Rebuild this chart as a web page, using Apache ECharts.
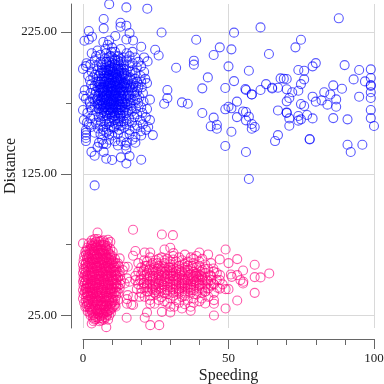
<!DOCTYPE html>
<html>
<head>
<meta charset="utf-8">
<style>html,body{margin:0;background:#fff}#chart{width:384px;height:384px}</style>
<script src="https://cdn.jsdelivr.net/npm/echarts@6/dist/echarts.min.js"></script>
</head>
<body>
<div id="chart"></div>
<script>
const majorDistance = [25, 125, 225];
const minorDistance = [75, 175];

// blue group, readable points on the right
const blueFar = [[87.9,234.7],[61,228.3],[51.9,224.6],[38.9,219.6],[47,214.2],[51,212.8],[44.9,208.8],[63.9,209.5],[74.9,219.6],[73,214.2],[38.1,204.8],[38.1,202],[50,200.8],[57,197.7],[42.9,193],[51.9,190.4],[41,185.3],[48.9,185.5],[55.8,184.8],[56,184.1],[58,181],[58,181],[61,184.1],[62.9,188.3],[65,185.7],[65,185.2],[67,185.7],[67.9,192.3],[69,192.1],[70,191.9],[70,184.6],[71.9,182.5],[74,183.6],[74.9,188.3],[76,191.6],[74,198.2],[76,197.7],[78.9,200.8],[80,203.1],[89.9,201.7],[94.9,198.2],[98.9,198.7],[93,191.6],[96.9,190.2],[98.9,192.6],[98.9,187.6],[98.9,187],[86,187.4],[89,185],[82.9,182.5],[85,181],[78.9,179.4],[80,175.9],[82,176.8],[87,177.5],[84,173.8],[87,172.3],[94.9,179.4],[98.9,182.5],[98.9,178.5],[98.9,170],[98.9,164.3],[100,158.7],[86,164.3],[90.9,163.4],[78.9,164.1],[77,166.5],[74,165.8],[74,162.5],[74.9,163.4],[70.9,164.1],[70.9,158.9],[70,168.3],[70,168],[67,169.7],[74.9,174.2],[76,172.8],[70,176.1],[70.9,178.5],[52.9,175.9],[50,172.3],[51,171.2],[48.9,170.5],[41,167.9],[44.9,164.6],[52.9,165],[55,169],[56,168.6],[57,165.3],[56,162.7],[58,160.1],[59,158],[58,156.8],[43.9,158.5],[46,159.6],[46,156.8],[51,154.7],[67,152.3],[66,148.1],[77.9,149.5],[77.9,149.2],[48.9,144.6],[56,140.4],[90.9,145.5],[92,140.4],[96,145.5],[57,121.3]];

// blue group, edge of the dense cloud
const blueEdge = [[9,244.7],[14.9,242.4],[22.1,241.5],[7.1,234.2],[12.9,231.6],[14.9,229.5],[12.9,228.8],[7.1,227.6],[2,225.7],[16,224.3],[27,224.7],[11.1,222.2],[3.1,221.7],[2,219.8],[0.5,218.9],[14.9,219.8],[17.2,219.1],[20,214.6],[24.8,212.5],[26,208.5],[32,199.8],[22.2,204.3],[21,207.1],[29,184.1],[29,178.4],[27.9,174.4],[34,175.4],[36,174.4],[23,177.3],[22,170.7],[23,162.9],[24,152.3],[18,146.9],[20,134.9],[14.9,132.3],[16,137.5],[14.9,142.4],[13,136.6],[10,134.7],[8,135.6],[7.1,140.5],[4,137.7],[2.9,140.5],[5,144],[4,116.8],[1,155.9],[1,154],[1,152.2],[1,150.3],[1,148.1],[0,199],[1,201],[1.2,203],[0.6,184],[0.2,180],[1,178],[0,170],[1.5,168],[0.3,163],[1.3,161],[2,160],[2.4,191],[1.8,194],[2.6,172],[2.2,176],[2.8,158]];

// blue group, dense cloud
const blueCore = [[7,218],[8.5,216],[9,219],[10,214],[5,212],[7.6,213],[11,211],[13,213],[15,210],[3,210],[4.5,208],[6,209],[8,210],[9.5,208],[12,208],[14,207],[16,208],[18,207],[17,211],[19,204],[4,205],[6,204],[7.5,206],[9,204],[11,205],[13,204],[15,205],[17,203],[18.5,200],[20,201],[2.5,202],[4.6,201],[6.5,200],[8,202],[10,200],[12,201],[14,199],[16,201],[21,197],[3,197],[5,198],[7,196],[8.7,198],[10.5,197],[12.5,198],[14.3,196],[16.3,197],[18,196],[19.8,194],[21.4,192],[3.5,193],[5.4,194],[7.2,192],[9,194],[10.8,193],[12.6,194],[14.4,192],[16.2,193],[18,192],[20,190],[2.8,188],[4.6,190],[6.2,188],[7.8,190],[9.4,189],[11,190],[12.8,188],[14.6,189],[16.4,188],[18.2,187],[20.2,186],[22,189],[3.2,185],[5,186],[6.8,184],[8.4,186],[10,185],[11.8,186],[13.4,184],[15,185],[16.8,184],[18.6,183],[20.6,182],[2.6,182],[4.2,181],[6,182],[7.6,180],[9.2,182],[10.8,181],[12.4,182],[14.2,180],[16,181],[17.8,180],[19.4,179],[3.4,178],[5.2,177],[7,178],[8.8,176],[10.4,178],[12,176],[13.6,178],[15.4,176],[17.2,177],[19,175],[20.8,176],[2.4,175],[4,173],[5.8,174],[7.4,172],[9.2,174],[11,172],[12.8,174],[14.6,172],[16.4,173],[18.2,171],[20,172],[3,170],[4.8,169],[6.6,170],[8.2,168],[10,170],[11.6,168],[13.2,170],[15,168],[16.8,169],[18.6,167],[20.4,168],[3.6,166],[5.4,165],[7,166],[8.8,164],[10.6,166],[12.4,164],[14,166],[15.8,164],[17.6,165],[19.6,163],[21.6,165],[2.6,164],[4.4,161],[6.2,162],[8,160],[9.8,162],[11.4,160],[13.2,162],[15,160],[16.8,161],[18.6,159],[20.6,160],[22.4,158],[5.2,157],[7,158],[8.8,156],[10.6,158],[12.4,156],[14.2,158],[16,156],[17.8,157],[19.8,155],[21.6,156],[4,154],[6,153],[8,154],[10,152],[12,153],[14,151],[16,153],[18,151],[20,152],[6.6,149],[9,149],[11,148],[13,148],[15,147],[17,149],[8,146],[12,145],[14.6,145],[7,146],[5.5,147],
[8.2,196],[9.6,192],[10.3,188],[11.4,195],[12.2,191],[8.9,187],[7.3,183],[9.9,183],[11.2,184],[12.5,179],[10,176],[8.1,178],[9.4,172],[11.3,175],[12.9,172],[7.7,175],[6.6,179],[8.6,170],[10.7,168],[11.9,170],[13.7,182],[14.2,187],[13.1,191],[7.4,188],[6.5,192],[7.9,200],[10,203],[11.5,199],[9.2,197],[12.3,203],[10.9,206],[8.8,207],[9.7,211],[11.8,193],[10.2,195],[9,191],[8,193],[12,187],[11,187],[9.6,185],[8.7,184],[10.4,180],[11.6,178],[9.7,178],[8.5,174],[10.6,173],[12.2,168],[9.3,167],[7.2,168],[13,166],[6.9,174],[13.4,176],[14.8,178],[15.6,183],[15.4,191],[14,195],[13,199],[6,196],[5.6,184],[5.9,176],[6.1,167],[14.2,170],[15.2,174],[16,178],[17,186],[16.6,191],[11,163],[9,161],[13,159],[7.6,163],
[8.4,192],[9.2,189],[10,191],[10.9,189],[11.7,191],[12.5,185],[11.3,182],[10.2,183],[9,180],[8,182],[7,186],[6.8,181],[7.5,177],[8.8,179],[10,177],[11.2,180],[12.2,177],[13,180],[13.8,175],[12.6,170],[11.4,171],[10.3,171],[9.1,170],[8,172],[7,171],[6.2,173],[5.4,171],[5.2,180],[5.6,188],[6,190],[7.6,194],[8.9,195],[10.1,198],[11.2,196],[12.4,196],[13.4,194],[13.8,189],[14.8,186],[15.4,180],[14.6,175],[9.4,199],[8,198],[6.6,198],[11,202],[12.9,206],[9,201],[4.4,183],[4.2,176],[4,187],[17.4,189],[18.6,178],[16.4,175],[15.6,170],[12,164],[10,165],[8.2,166],[14,162],[6,160],[10.6,157],[9,153],
[7.2,190],[8.6,189],[9.8,187],[11.4,188],[12.6,189],[13.2,186],[12.8,183],[11.7,184],[10.6,184],[9.5,186],[8.2,184],[7.4,185],[6.4,186],[6.6,183],[8.3,181],[9.6,181],[10.9,179],[12,180],[13.2,178],[14,183],[13.6,187],[10.6,176],[9.6,175],[8.4,177],[7.2,179],[6.2,177],[6.6,175],[7.8,173],[9,172],[10.2,174],[11.4,173],[12.4,174],[13.3,172],[12.2,172],[8.8,193],[7.4,197],[10.2,193],[11.4,192],[12.8,192],[13.4,196],[10.6,200],[8.8,199],[12.2,199],[14.8,194],[15.2,188],[16,186],[6,185],[5.2,190],[4.8,178],[5,174],[7.4,169.5],[9.6,168.5],[11,166],[12.8,167],[8,204],[10,207],[12,205],[14,202],[6.4,202],[15,198],[4.2,195],[17,198],[18.6,190],[19,186],[17.6,182],[16.6,171],[9.4,158],[12,160],[7,156],[15,163]];

// pink group
const pinkFar = [[5,83.6],[17.2,85.5],[27.1,82.2],[30.9,81.7],[0,75.9],[4,78.9],[8.6,78.5],[9.4,77],[18,70.5],[17.2,67.2],[21.2,69.5],[23.1,69.5],[28,71.6],[30,72.8],[31.1,69],[15,23.4],[21.2,23.4],[22,27.2],[23.1,18.2],[26.2,18.2],[27.1,27.6],[3,15.4],[8,16.8],[3,19.4],[14.3,59.4],[15.4,59.4],[13.7,57],[15.1,51.2],[16,48.8],[14.3,47.6],[12,61.8],[12.6,65.3],[12,35.9],[11.2,31.2],[15.4,39.4],[15.1,36.6],[17.2,38.2],[16.6,32.8],[15.1,33.3],[18.5,43.6],[17.2,32.4],[19.4,38.2],[21.2,38.2],[23.1,33.3],[24.6,33.3],[30,31.2],[49,71.6],[47,64.6],[43,68.1],[40,69.5],[53,64.8],[50,62],[59,60.8],[55,56.8],[64,54.7],[61,51.9],[59,52.1],[51.1,52.3],[50.8,54],[53,53.5],[54.1,50],[55,47.6],[55.1,48.8],[50,43.6],[49,43.6],[59,41],[53,35.6],[49,30],[45,25],[36,16.1],[45,33.3],[45,35.9],[42,33.5],[43.1,38.2],[40.8,37],[37,28.4],[37,31.2],[34,30],[31.3,31.2],[30,27.2],[47.1,53.5],[44.8,58.2],[43.7,53.5],[46,50],[44.8,47.6],[46.2,44.6],[42,41.8]];

const pinkCore = [[3,78],[5,79],[7,78],[2,76],[4,75],[5.5,77],[7,75],[8.5,76],[1.5,73],[3,72],[4.6,73],[6.2,72],[7.8,73],[9.4,72],[0.8,70],[2.4,69],[4,70],[5.6,69],[7.2,70],[8.8,69],[10.2,70],[0.4,67],[2,66],[3.6,67],[5.2,66],[6.8,67],[8.4,66],[10,67],[11,65],[0.2,64],[1.8,63],[3.4,64],[5,63],[6.6,64],[8.2,63],[9.8,64],[11.2,62],[0,61],[1.6,60],[3.2,61],[4.8,60],[6.4,61],[8,60],[9.6,61],[11,59],[12.2,60],[0.2,58],[1.8,57],[3.4,58],[5,57],[6.6,58],[8.2,57],[9.8,58],[11.4,57],[12.6,56],[0,55],[1.6,54],[3.2,55],[4.8,54],[6.4,55],[8,54],[9.6,55],[11.2,54],[12.8,53],[0.2,52],[1.8,51],[3.4,52],[5,51],[6.6,52],[8.2,51],[9.8,52],[11.4,51],[13,50],[0,49],[1.6,48],[3.2,49],[4.8,48],[6.4,49],[8,48],[9.6,49],[11.2,48],[12.8,47],[0.2,46],[1.8,45],[3.4,46],[5,45],[6.6,46],[8.2,45],[9.8,46],[11.4,45],[12.6,44],[0,43],[1.6,42],[3.2,43],[4.8,42],[6.4,43],[8,42],[9.6,43],[11.2,42],[12.2,41],[0.2,40],[1.8,39],[3.4,40],[5,39],[6.6,40],[8.2,39],[9.8,40],[11.4,39],[0,37],[1.6,36],[3.2,37],[4.8,36],[6.4,37],[8,36],[9.6,37],[11,36],[0.4,34],[2,33],[3.6,34],[5.2,33],[6.8,34],[8.4,33],[10,34],[11,33],[0.8,31],[2.4,30],[4,31],[5.6,30],[7.2,31],[8.8,30],[10.2,31],[1.6,28],[3.2,27],[4.8,28],[6.4,27],[8,28],[9.6,27],[2.6,25],[4.2,24],[5.8,25],[7.4,24],[9,25],[4,22],[5.6,21],[7.2,22],[8.6,22],[3.6,21],
[1,68],[3,65],[5.9,68],[7.5,62],[9,59],[2.6,59],[4.1,56],[6,53],[7.4,50],[9,47],[2.4,47],[4,44],[5.7,41],[7.2,38],[9,35],[2.6,38],[4.2,35],[5.9,32],[7.6,29],[3,29],[5.2,26],[6.6,23],[1,56],[1,50],[1,44],[1,38],[10.4,56],[10.6,50],[10.5,44],[10.3,38],[9,65],[4.3,62],[6,59],[7.6,56],[5.6,47],[3.8,50],[2.4,53],[8.7,53],[8.9,41],[2.4,42],[6.3,35],[4,68],[6,71],[3.6,71],
[3.9,76],[6.2,75],[5,72],[7,71],[8.6,71],[2.2,71],[1.4,66],[2.9,68],[4.8,67.5],[6.4,69],[7.9,66],[9.4,68],[9.2,62],[7.1,64],[5.7,62],[3.7,62.5],[2.2,61],[1,59],[2.7,56],[4.5,58.5],[6.2,57],[7.3,59],[8.9,56],[10.6,60],[10.9,53],[9.2,50],[7.6,52.5],[5.6,50],[4.2,52.5],[2.6,50],[1.3,47],[3.1,45],[4.6,46.5],[6.3,44.5],[7.7,46.5],[9.3,44],[10.7,47],[10.6,41],[8.9,38],[7.5,41.5],[5.3,42.5],[4,38],[2.6,41],[1.2,41],[1,35],[2.8,33.5],[4.5,32.5],[6.1,33],[7.7,35],[9.3,32],[8.3,27.5],[6.9,26.5],[5,29],[3.6,25.5],[2.1,31],[1.4,33],[5.3,35.5],[6.9,29],[4.4,22.5],[6.4,21.5],[7.9,24],[2.3,27],[3.4,30],[9.4,29],[10.4,35],[11.6,42],[12,46],[12,52],[11.9,55],[10.4,63],[8.6,60],[6.8,65],[5,75],[3.3,74],[2.4,64],[1,62],[1.1,53],[0.6,48],[0.8,44],[5.9,64],[4.9,59],[5.4,54.5],[7,54],[8.6,48.5],[3.1,53.5],[2.3,44.5],[3.6,40.5],[5.6,37.5],[7,32.5],[8.2,37.5],[6.9,43],[7.1,47.5],[9.8,53.5],[9.4,57],[3.4,47.5],[4.3,41],[6.1,51],[8.7,43.5],[2.2,36.5],[10,42],[3,59.5],[4.1,65],[7.6,68.5],[8.3,74],
[2.7,74.5],[4.4,74],[6,74],[7.6,74.5],[8,71.5],[6.6,70.5],[5.2,71],[3.8,72.5],[2.6,72],[1.2,71],[1.8,68],[3.2,69.5],[4.6,68.5],[6.8,68.5],[8,68],[9.6,66],[8.9,64],[7.6,65.5],[6.1,66],[4.6,65],[3.2,63],[1.4,64.5],[0.8,61],[2.6,62],[4.2,60],[5.6,60.5],[7,61],[8.4,61.5],[10,62],[10.4,58.5],[8.8,58.5],[7.9,58],[6.8,56],[5.6,56],[3.8,55],[2.2,55],[1.4,52],[2.8,52],[4.6,51],[5.5,52.5],[7,51],[8.4,52],[10.2,51],[10.2,49],[8.6,46.5],[7,49],[5.6,48.5],[4.2,48],[2.8,48],[1.2,45],[2.6,45],[4,45.5],[5.4,44],[7,44.8],[8.2,43.5],[9.9,44.5],[9.4,41.5],[7.9,40.5],[6.4,41.5],[4.8,40.5],[3.2,41.6],[1.4,39.5],[2.8,38.5],[4.6,37],[5.9,38.6],[7.4,36.5],[8.9,36.5],[10,36],[9.7,33.5],[8.1,32],[6.4,32],[4.8,34],[3.3,35.5],[1.8,34.5],[1.2,31.5],[2.8,31.5],[4.4,29.5],[6.2,29.5],[7.8,31.5],[8.9,28.5],[7.4,27],[5.6,27.5],[4.2,26.5],[2.8,28.5],[6.2,24.5],[4.9,23.5],[8.3,25.5],[3.4,23.5],[5.6,23],[7,25.5],[9.8,30],[10.8,32],[11.6,50],[11.5,47],[11.4,53.5],[11,56],[0.4,50],[0.6,54],[0.4,57],[0.6,41.5],[4.4,77],[6.2,77.5],[3.2,76],[7.4,76.5]];

const pinkCloud = [[19,62],[21,64],[23,66],[25,64],[27,66],[29,65],[31,67],[33,66],[35,68],[37,66],[39,67],[41,65],[20,59],[22,60],[24,62],[26,60],[28,62],[30,61],[32,63],[34,61],[36,63],[38,62],[40,63],[42,61],[44,62],[19,56],[21,57],[23,58],[25,56],[27,58],[29,57],[31,59],[33,57],[35,59],[37,58],[39,59],[41,57],[43,58],[45,56],[18,53],[20,54],[22,55],[24,53],[26,55],[28,54],[30,56],[32,54],[34,56],[36,55],[38,56],[40,54],[42,55],[44,53],[46,55],[18,50],[20,51],[22,52],[24,50],[26,52],[28,51],[30,53],[32,51],[34,53],[36,52],[38,53],[40,51],[42,52],[44,50],[47,50],[19,47],[21,48],[23,49],[25,47],[27,49],[29,48],[31,50],[33,48],[35,50],[37,49],[39,50],[41,48],[43,49],[45,47],[48,47],[20,44],[22,45],[24,46],[26,44],[28,46],[30,45],[32,47],[34,45],[36,47],[38,46],[40,47],[42,45],[44,46],[47,44],[20,41],[22,42],[24,43],[26,41],[28,43],[30,42],[32,44],[34,42],[36,44],[38,43],[40,44],[42,42],[45,41],[23,39],[25,40],[27,38],[29,40],[31,39],[33,41],[35,39],[37,41],[39,40],[41,41],[26,36],[28,35],[30,37],[32,36],[34,38],[36,36],[38,37],[40,35],[33,34],[35,33],[38,34],[29,34],[23,36],
[21,53],[25,51],[29,54],[33,52],[37,54],[41,52],[23,47],[27,45],[31,47],[35,46],[39,48],[27,56],[31,55],[35,57],[39,55],[21,45],[25,43],[29,43],[33,44],[37,45],[41,44],[24,57],[28,59],[32,58],[36,60],[40,60],[22,50],[26,48],[30,49],[34,50],[38,51],
[19.6,50],[20.8,48],[22,47],[23.6,44],[24.8,48],[26.4,50],[27.4,47],[28.6,49],[29.8,51],[31,53],[32,49],[33.6,46],[34.8,48],[36,50],[37.2,47],[38.4,49],[39.6,52],[41,50],[42.4,47],[23,53],[24.4,55],[25.6,58],[27,53],[28.2,56],[29.4,59],[30.6,57],[32,56],[33.4,55],[34.6,54],[36,57],[37.6,52],[39,53],[40.4,56],[42,58],[21.4,60],[23.4,61],[25.6,62],[30,63],[34,64],[38,65],[22.4,42],[25,45],[28,41],[31,41],[35,42],[39,42],[43,44],
[20.6,56],[22.6,57],[24.6,59],[26.6,57],[28.4,52],[30.4,54.5],[32.4,52.5],[34.4,51],[36.4,53.5],[38.6,54.5],[40.6,53],[42.6,50],[24,51.5],[26,53.5],[28,49],[30,47],[32,45.5],[34,47.5],[36,45],[38,44.5],[40,46],[24.5,41],[26.8,42.5],[29,45],[31,43.5],[33,42.5],[35,40.5],[37,43],[30,58.5],[33,60],[35,61.5],[37.6,60],[26,65],[22,63],[28,64],[31,64.5]];

const chart = echarts.init(document.getElementById('chart'));
const option = {
  animation: false,
  textStyle: { fontFamily: 'Liberation Serif', color: '#222' },
  grid: { left: 83, right: 10, top: 4, bottom: 56, outerBoundsMode: 'none' },
  xAxis: {
    type: 'value',
    min: 0,
    max: 100,
    interval: 50,
    offset: 11,
    name: 'Speeding',
    nameLocation: 'middle',
    nameGap: 29,
    nameMoveOverlap: false,
    nameTextStyle: { fontSize: 16, fontFamily: 'Liberation Serif', color: '#222' },
    axisLine: { show: true, onZero: false, lineStyle: { color: '#666' } },
    axisTick: { show: true, length: 10, lineStyle: { color: '#666' } },
    minorTick: { show: true, splitNumber: 5, length: 6, lineStyle: { color: '#666' } },
    axisLabel: { fontSize: 13, margin: 13, color: '#222', fontFamily: 'Liberation Serif' },
    splitLine: { show: true, lineStyle: { color: '#d9d9d9' } },
    minorSplitLine: { show: false }
  },
  yAxis: [
    {
      type: 'value',
      position: 'left',
      min: 16.2,
      max: 244.8,
      offset: 12,
      name: 'Distance',
      nameLocation: 'middle',
      nameGap: 52,
      nameMoveOverlap: false,
      nameTextStyle: { fontSize: 16, fontFamily: 'Liberation Serif', color: '#222' },
      axisLine: { show: true, onZero: false, lineStyle: { color: '#666' } },
      axisTick: { show: true, length: 10, customValues: majorDistance, lineStyle: { color: '#666' } },
      axisLabel: {
        customValues: majorDistance,
        fontSize: 13,
        margin: 14,
        color: '#222',
        fontFamily: 'Liberation Serif',
        formatter: v => v.toFixed(2)
      },
      splitLine: { show: false }
    },
    {
      // only carries the short ticks
      type: 'value',
      position: 'left',
      min: 16.2,
      max: 244.8,
      offset: 12,
      axisLine: { show: false, onZero: false },
      axisTick: { show: true, length: 5, customValues: minorDistance, lineStyle: { color: '#666' } },
      axisLabel: { show: false },
      splitLine: { show: false }
    }
  ],
  series: [
    {
      type: 'scatter',
      symbolSize: 9,
      data: blueFar.concat(blueEdge, blueCore),
      itemStyle: { color: 'transparent', borderColor: '#0000ff', borderWidth: 1.1, opacity: 0.65 },
      markLine: {
        silent: true,
        z: 1,
        symbol: 'none',
        label: { show: false },
        lineStyle: { color: '#d9d9d9', type: 'solid', width: 1 },
        data: majorDistance.map(v => ({ yAxis: v }))
      }
    },
    {
      type: 'scatter',
      symbolSize: 9,
      data: pinkFar.concat(pinkCore, pinkCloud),
      itemStyle: { color: 'transparent', borderColor: '#ff0080', borderWidth: 1.1, opacity: 0.65 }
    }
  ]
};
chart.setOption(option);
</script>
</body>
</html>
